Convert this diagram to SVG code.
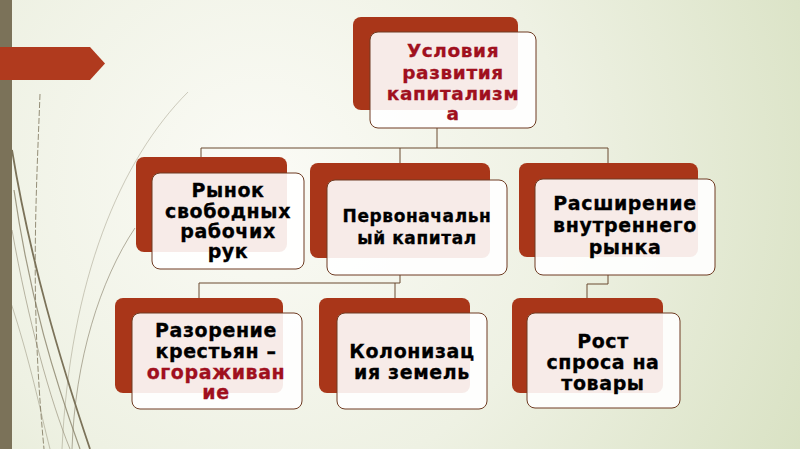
<svg xmlns="http://www.w3.org/2000/svg" width="800" height="449" viewBox="0 0 800 449">
<defs>
<radialGradient id="bg" cx="260" cy="180" r="620" gradientUnits="userSpaceOnUse">
<stop offset="0" stop-color="#fbfbf6"/>
<stop offset="0.5" stop-color="#eef1e3"/>
<stop offset="1" stop-color="#d8e1c2"/>
</radialGradient>
<style>
.red{fill:#a93619}
.box{fill:#ffffff;fill-opacity:0.9;stroke:#6e3b22;stroke-width:1}
.t{font-family:"DejaVu Sans",Verdana,sans-serif;font-weight:bold;font-size:19px;letter-spacing:0.6px;text-anchor:middle;fill:#000;stroke:#000;stroke-width:0.3px}
.dr{fill:#a0101e;stroke:#a0101e}
.conn{fill:none;stroke:#6b4a30;stroke-width:1}
.deco{fill:none;stroke:#7b7259}
</style>
</defs>
<rect width="800" height="449" fill="url(#bg)"/>
<rect x="0" y="0" width="12" height="449" fill="#7b7259"/>
<g id="decor">
<path class="deco" d="M40 94 C36 200 30 300 44 449" stroke-width="0.8" stroke-dasharray="6 2"/>
<path class="deco" d="M12 150 C30 260 60 360 90 449" stroke-width="1.8"/>
<path class="deco" d="M14 190 C30 300 55 380 80 449" stroke-width="1.2" opacity="0.7"/>
<path class="deco" d="M12 230 C28 320 50 400 70 449" stroke-width="1" opacity="0.5"/>
<path class="deco" d="M188 92 C120 160 70 280 62 449" stroke-width="1" opacity="0.35"/>
<path class="deco" d="M135 228 C100 280 75 360 72 449" stroke-width="0.8" opacity="0.7"/>
<path class="deco" d="M10 300 C30 360 40 410 50 449" stroke-width="1" opacity="0.4"/>
</g>
<path id="banner" d="M0 47 H90 L105 63.5 L90 80 H0 Z" fill="#b03a1e"/>
<g id="connectors">
<path class="conn" d="M437 128 V148 M201 157 V148 H608 V163 M400 148 V163"/>
<path class="conn" d="M400 275 V283 H199 V298 M395 283 V298"/>
<path class="conn" d="M608 275 V284 H587 V298"/>
</g>
<g id="n0">
<rect class="red" x="353" y="17" width="165" height="93" rx="8"/>
<rect class="box" x="370" y="32" width="166" height="96" rx="8"/>
<text class="t dr" style="font-size:18.5px"><tspan x="453" y="57">Условия</tspan><tspan x="453" y="79">развития</tspan><tspan x="453" y="100">капитализм</tspan><tspan x="453" y="120">а</tspan></text>
</g>
<g id="n1">
<rect class="red" x="136" y="157" width="151" height="95" rx="8"/>
<rect class="box" x="152" y="173" width="152" height="96" rx="8"/>
<text class="t"><tspan x="228" y="197">Рынок</tspan><tspan x="228" y="218">свободных</tspan><tspan x="228" y="238">рабочих</tspan><tspan x="228" y="258">рук</tspan></text>
</g>
<g id="n2">
<rect class="red" x="310" y="163" width="180" height="95" rx="8"/>
<rect class="box" x="327" y="180" width="180" height="95" rx="8"/>
<text class="t" style="font-size:17px"><tspan x="417" y="222">Первоначальн</tspan><tspan x="417" y="244">ый капитал</tspan></text>
</g>
<g id="n3">
<rect class="red" x="519" y="163" width="179" height="94" rx="8"/>
<rect class="box" x="535" y="179" width="180" height="96" rx="8"/>
<text class="t"><tspan x="625" y="210">Расширение</tspan><tspan x="625" y="232">внутреннего</tspan><tspan x="625" y="254">рынка</tspan></text>
</g>
<g id="n4">
<rect class="red" x="115" y="298" width="168" height="95" rx="8"/>
<rect class="box" x="132" y="313" width="170" height="96" rx="8"/>
<text class="t"><tspan x="216" y="337">Разорение</tspan><tspan x="216" y="358">крестьян –</tspan><tspan x="216" y="379" class="dr">огораживан</tspan><tspan x="216" y="399" class="dr">ие</tspan></text>
</g>
<g id="n5">
<rect class="red" x="319" y="298" width="151" height="95" rx="8"/>
<rect class="box" x="337" y="313" width="150" height="96" rx="8"/>
<text class="t"><tspan x="412" y="358">Колонизац</tspan><tspan x="412" y="379">ия земель</tspan></text>
</g>
<g id="n6">
<rect class="red" x="512" y="298" width="151" height="95" rx="8"/>
<rect class="box" x="527" y="313" width="153" height="95" rx="8"/>
<text class="t"><tspan x="603" y="348">Рост</tspan><tspan x="603" y="369">спроса на</tspan><tspan x="603" y="390">товары</tspan></text>
</g>
</svg>
